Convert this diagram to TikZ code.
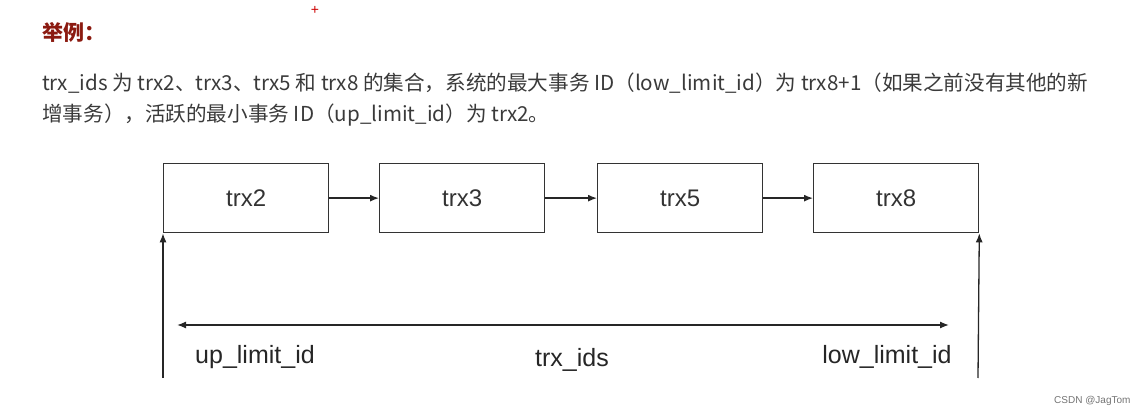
\documentclass[tikz,border=0pt]{standalone}
\usepackage{fontspec}
\setmainfont{Liberation Sans}
\newfontfamily\cjk{Noto Sans CJK SC}
\usetikzlibrary{arrows.meta}
\definecolor{txt}{HTML}{3A3A3A}
\definecolor{head}{HTML}{8B1A10}
\begin{document}
\begin{tikzpicture}[x=1pt,y=-1pt,
  box/.style={draw=black!80,line width=1.3pt,minimum width=165pt,minimum height=69pt,anchor=north west,font=\fontsize{24}{28}\selectfont,text=black!80},
  lab/.style={font=\fontsize{25}{28}\selectfont,text=black!85},
  para/.style={anchor=west,inner sep=0,font=\cjk\fontsize{20.6}{24}\selectfont,text=txt},
  arr/.style={-{Latex[length=9pt,width=7pt]},line width=1.3pt,draw=black!85}]
\useasboundingbox (0,0) rectangle (1144,417);
\node[anchor=center,text=red!80!black,font=\fontsize{14}{14}\selectfont] (plus) at (315,10) {+};
\node[anchor=west,inner sep=0,font=\cjk\bfseries\fontsize{21}{24}\selectfont,text=head] (h) at (42,32) {举例：};
\node[para] (p1) at (42,83) {trx\_ids 为 trx2、trx3、trx5 和 trx8 的集合，系统的最大事务 ID（low\_limit\_id）为 trx8+1（如果之前没有其他的新};
\node[para] (p2) at (42,115) {增事务），活跃的最小事务 ID（up\_limit\_id）为 trx2。};
\node[box] (t2) at (163,163) {trx2};
\node[box] (t3) at (379,163) {trx3};
\node[box] (t5) at (597,163) {trx5};
\node[box] (t8) at (813,163) {trx8};
\draw[arr] (t2) -- (t3);
\draw[arr] (t3) -- (t5);
\draw[arr] (t5) -- (t8);
\coordinate (b1) at (163,378);
\coordinate (b2) at (978,378);
\draw[arr] (b1) -- (t2.south west);
\draw[arr] (b2) -- (t8.south east);
\coordinate (l) at (177,325);
\coordinate (r) at (949,325);
\draw[{Latex[length=9pt,width=7pt]}-{Latex[length=9pt,width=7pt]},line width=1.3pt,draw=black!85] (l) -- (r);
\node[lab] (u) at (255,357) {up\_limit\_id};
\node[lab] (ti) at (572,360) {trx\_ids};
\node[lab] (lo) at (887,357) {low\_limit\_id};
\node[anchor=east,font=\fontsize{10}{11}\selectfont,text=black!55] (wm) at (1134,401) {CSDN @JagTom};
\end{tikzpicture}
\end{document}
